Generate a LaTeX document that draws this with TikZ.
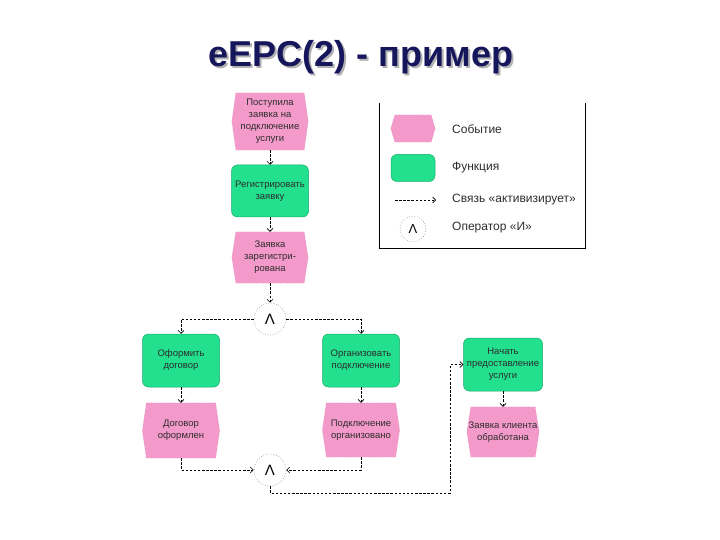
\documentclass[tikz,border=0pt]{standalone}
\usepackage{fontspec}
\setmainfont{Liberation Sans}
\usetikzlibrary{arrows.meta,calc}
\pgfdeclarelayer{bg}
\pgfsetlayers{bg,main}
\definecolor{evpink}{RGB}{244,154,202}
\definecolor{evedge}{RGB}{200,120,165}
\definecolor{fngreen}{RGB}{34,224,142}
\definecolor{fnedge}{RGB}{22,168,104}
\definecolor{titlecol}{RGB}{22,22,92}
\definecolor{txtcol}{RGB}{45,45,45}
\tikzset{
  evtxt/.style={inner sep=0pt, align=center, text=txtcol, font=\fontsize{9.5}{12}\selectfont},
  evshape/.style={fill=evpink, draw=evedge, line width=0.4pt, dotted},
  fun/.style={fill=fngreen, draw=fnedge, line width=0.5pt, rounded corners=6pt, inner sep=0pt,
    align=center, text=txtcol, font=\fontsize{9.5}{12}\selectfont},
  andop/.style={circle, draw=gray, dotted, line width=0.6pt, inner sep=0pt, font=\fontsize{15}{15}\selectfont},
  link/.style={draw, dash pattern=on 2.5pt off 1.6pt, line width=0.6pt, -{Straight Barb[length=3pt,width=6pt]}},
  legtxt/.style={anchor=west, inner sep=0pt, text=txtcol, font=\fontsize{12}{14}\selectfont},
  titletxt/.style={anchor=base, inner sep=0pt, font=\fontsize{36}{40}\bfseries\selectfont}
}
\newcommand\evt[6]{%
  \node[evtxt, minimum width=#4pt, minimum height=#5pt] (#1) at (#2,#3) {#6};
  \begin{pgfonlayer}{bg}
  \path[evshape] ($(#1.north west)+(4,0)$) -- ($(#1.north east)+(-4,0)$) -- (#1.east)
     -- ($(#1.south east)+(-4,0)$) -- ($(#1.south west)+(4,0)$) -- (#1.west) -- cycle;
  \end{pgfonlayer}}
\newcommand\fun[6]{%
  \node[fun, minimum width=#4pt, minimum height=#5pt] (#1) at (#2,#3) {#6};}
\begin{document}
\begin{tikzpicture}[x=1pt,y=-1pt]
\useasboundingbox (0,0) rectangle (720,540);
% title
\node[titletxt, text=gray!60] (tsh) at (363,69) {eEPC(2) - пример};
\node[titletxt, text=titlecol] (title) at (361,67) {eEPC(2) - пример};
% main chain
\evt{e1}{270}{121.5}{76}{57}{Поступила\\заявка на\\подключение\\услуги}
\fun{f1}{270}{191}{77}{52}{Регистрировать\\заявку}
\evt{e2}{270}{257.5}{76}{51}{Заявка\\зарегистри-\\рована}
\node[andop, minimum size=32pt] (a1) at (270,319) {Λ};
\fun{f2}{181}{360.5}{77}{53}{Оформить\\договор}
\fun{f3}{361}{360.5}{77}{53}{Организовать\\подключение}
\evt{e3}{181}{430.5}{77}{55}{Договор\\оформлен}
\evt{e4}{361}{430}{77}{54}{Подключение\\организовано}
\node[andop, minimum size=32pt] (a2) at (270,470) {Λ};
\fun{f4}{503}{364.5}{79}{53}{Начать\\предоставление\\услуги}
\evt{e5}{503}{432}{72}{50}{Заявка клиента\\обработана}
% connectors
\draw[link] (e1.south) -- (f1.north);
\draw[link] (f1.south) -- (e2.north);
\draw[link] (e2.south) -- (a1.north);
\draw[link] (a1.west) -| (f2.north);
\draw[link] (a1.east) -| (f3.north);
\draw[link] (f2.south) -- (e3.north);
\draw[link] (f3.south) -- (e4.north);
\draw[link] (e3.south) |- (a2.west);
\draw[link] (e4.south) |- (a2.east);
\coordinate (turn) at (450,493);
\draw[link] (a2.south) |- (turn) |- (f4.west);
\draw[link] (f4.south) -- (e5.north);
% legend
\draw[line width=0.8pt] (379,103) -- (379,248) -- (585,248) -- (585,103);
\evt{le}{413}{128.5}{44}{27}{}
\fun{lf}{413}{168}{44}{27}{}
\coordinate (la1) at (395,200);
\coordinate (la2) at (436,200);
\draw[link] (la1) -- (la2);
\node[andop, minimum size=26pt, font=\fontsize{13}{13}\selectfont] (la) at (413,229) {Λ};
\node[legtxt] (t1) at (452,129) {Событие};
\node[legtxt] (t2) at (452,168) {Функция};
\node[legtxt] (t3) at (452,200) {Связь «активизирует»};
\node[legtxt] (t4) at (452,228) {Оператор «И»};
\end{tikzpicture}
\end{document}
